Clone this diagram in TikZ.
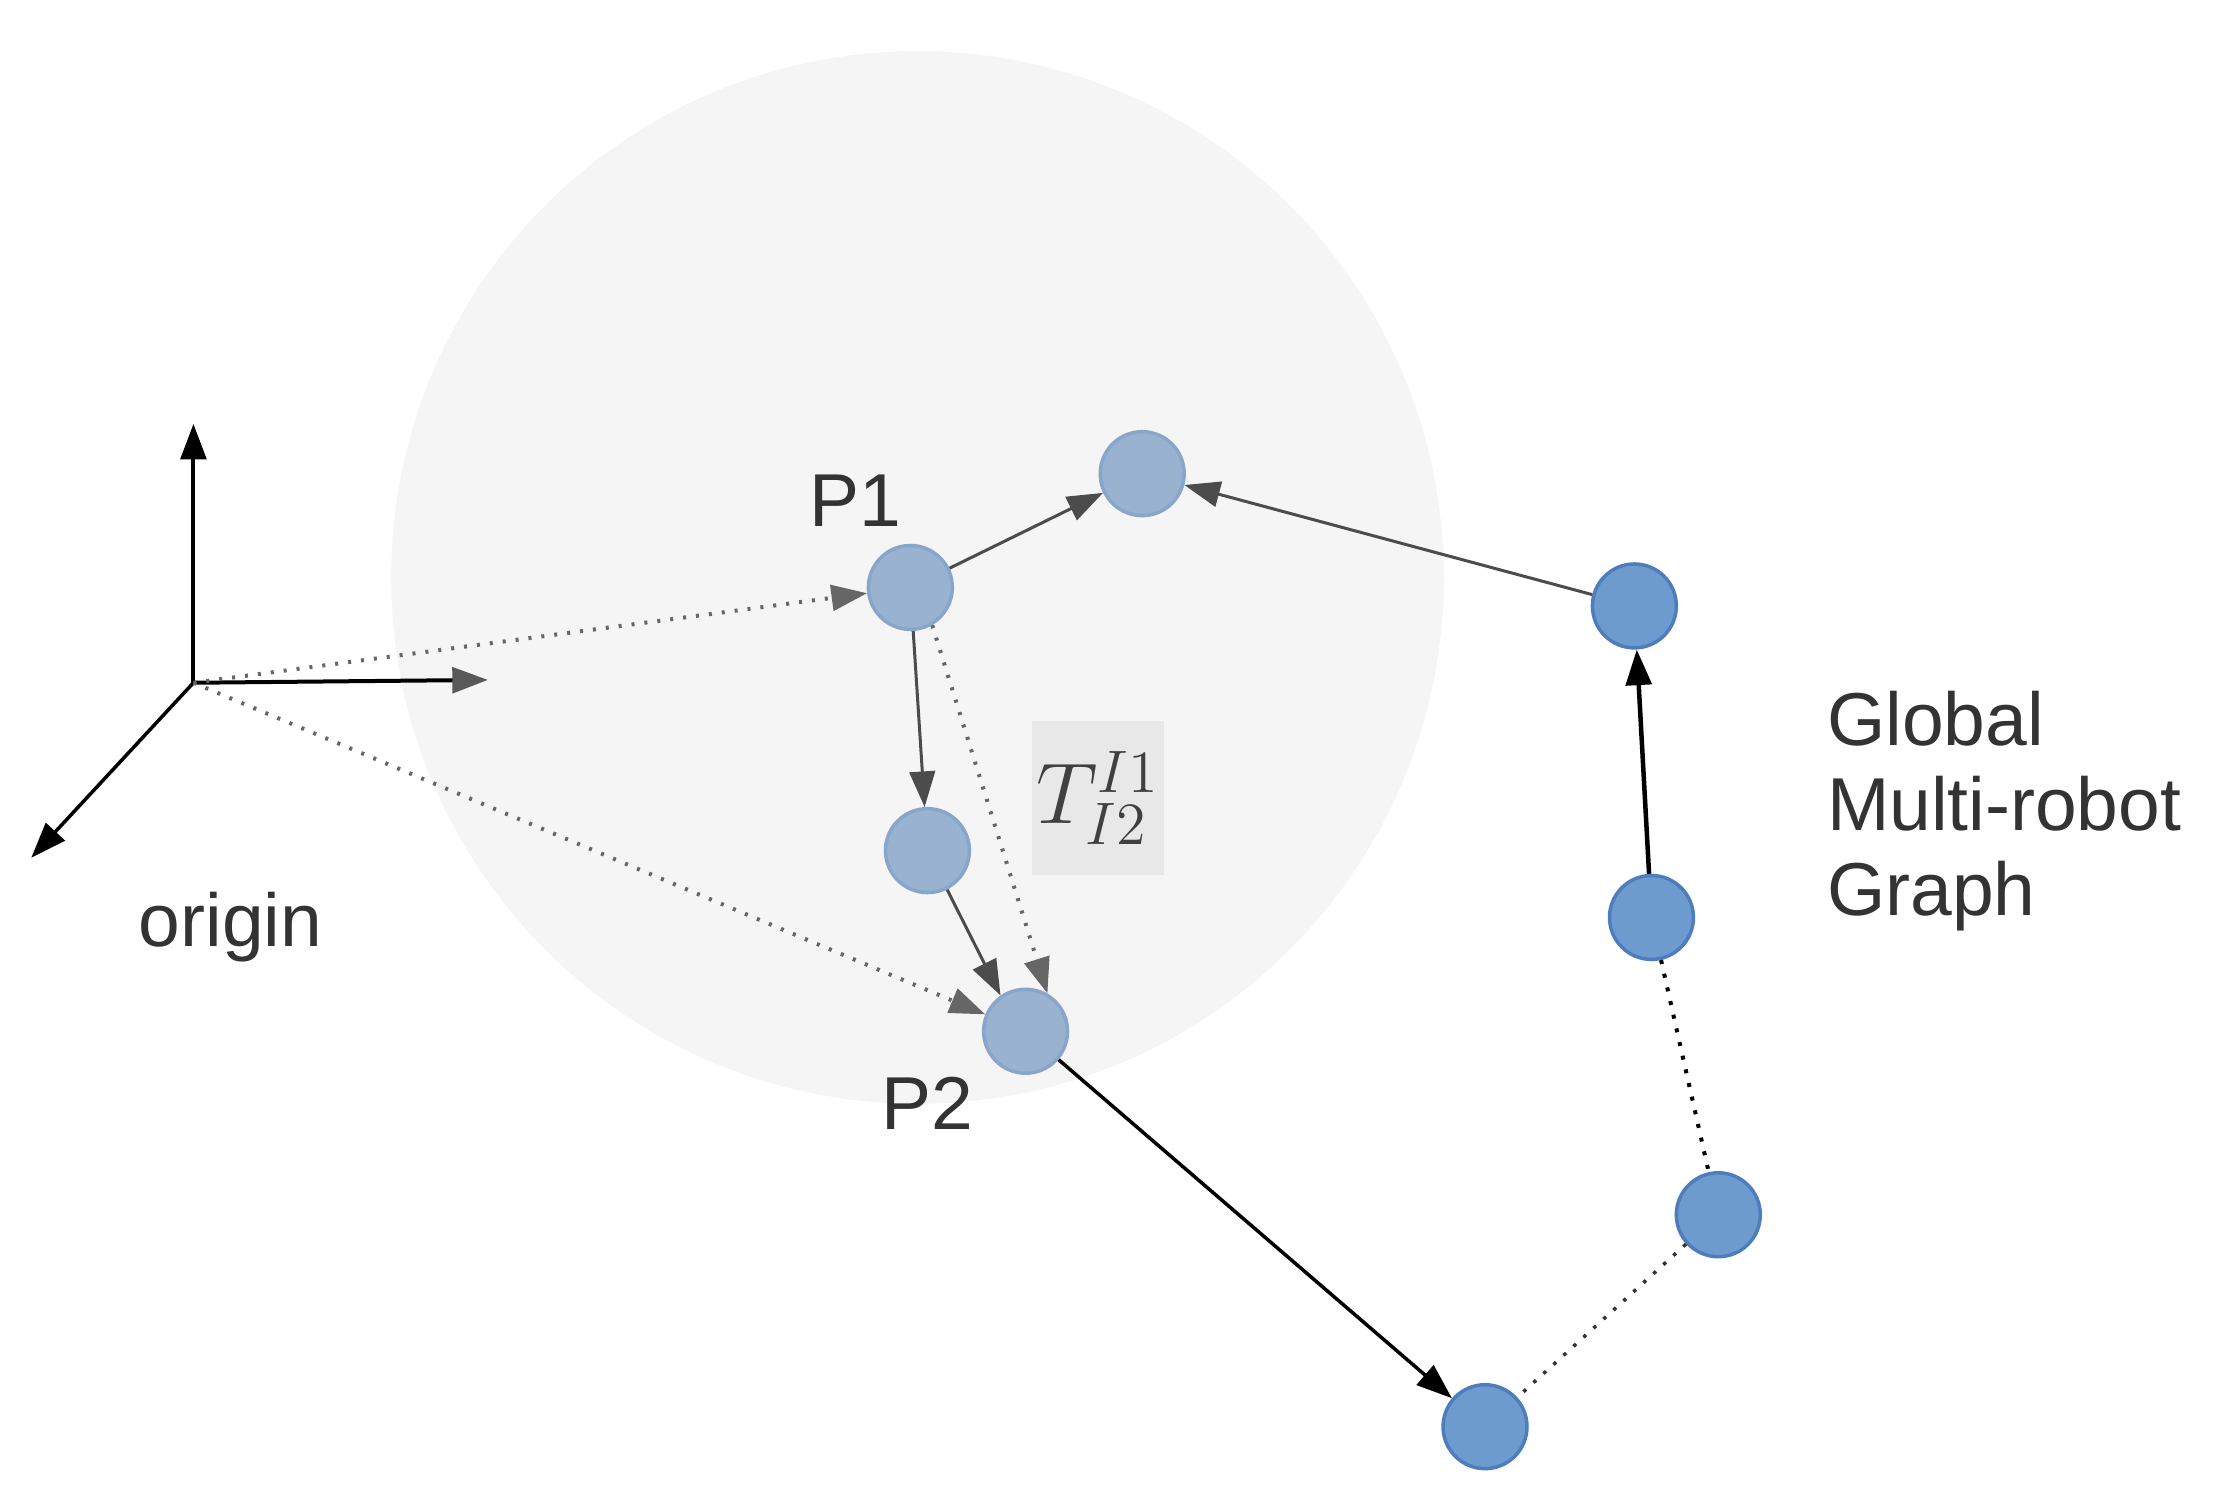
\documentclass[tikz,border=0pt]{standalone}
\usepackage{fontspec}
\setmainfont{Liberation Sans}
\usetikzlibrary{arrows.meta}

\definecolor{posefill}{HTML}{6E9BCE}
\definecolor{poseedge}{HTML}{4D7DBD}
\definecolor{fadefill}{HTML}{98B2D0}
\definecolor{fadeedge}{HTML}{88A6CA}
\definecolor{txtgray}{HTML}{333333}

\tikzset{
  pose/.style={circle, minimum size=5.9mm, inner sep=0pt, fill=posefill, draw=poseedge, line width=0.7pt},
  fadepose/.style={pose, fill=fadefill, draw=fadeedge},
  tip/.style={-{Triangle[length=2.5mm,width=1.8mm]}},
  link/.style={tip, draw=black!70, line width=0.6pt},
  odom/.style={link, dotted, draw=black!60, line width=0.8pt},
  lbl/.style={font=\fontsize{15}{17}\selectfont, text=txtgray}
}

\begin{document}
\begin{tikzpicture}[x=0.1mm, y=-0.1mm]
    \useasboundingbox (0,0) rectangle (1560,1054);
    % Local map
    \fill[black!4] (645,406) circle (370);
    % Axes
    \coordinate (o) at (136,480);
    \coordinate (ox) at (343,478);
    \coordinate (oy) at (136,298);
    \coordinate (oz) at (22,603);
    \draw[tip, line width=0.8pt] (o) -- (oy);
    \draw[-{Triangle[length=2.5mm,width=1.8mm,color=black!65]}, line width=0.8pt] (o) -- (ox);
    \draw[tip, line width=0.7pt] (o) -- (oz);
    \node[lbl] (origin) at (162,652) {origin};
    % Robot 1 poses
    \node[fadepose] (p1) at (640,413) {};
    \node[fadepose] (top) at (803,333) {};
    \node[fadepose] (mid) at (652,598) {};
    \node[fadepose] (p2) at (721,725) {};
    \node[lbl] (p1lbl) at (601,352) {P1};
    \node[lbl] (p2lbl) at (652,776) {P2};
    \node[fill=black!9, minimum width=9.3mm, minimum height=10.8mm, inner sep=0pt, text=black!75]
      (tf) at (772,561) {\fontsize{17}{20}\selectfont$T^{I1}_{I2}$};
    % Global graph
    \node[pose] (ga) at (1149,426) {};
    \node[pose] (gb) at (1161,645) {};
    \node[pose] (gc) at (1208,854) {};
    \node[pose] (gd) at (1044,1003) {};
    \node[lbl, anchor=west, align=left] (glbl) at (1272,570) {Global\\Multi-robot\\Graph};
    % Links
    \draw[odom] (o) -- (p1);
    \draw[odom] (o) -- (p2);
    \draw[odom] (p1.-60) -- (p2.60);
    \draw[link] (p1) -- (top);
    \draw[link] (p1) -- (mid);
    \draw[link] (mid) -- (p2.125);
    \draw[link] (ga) -- (top);
    \draw[tip, line width=0.7pt] (p2) -- (gd);
    \draw[tip, line width=0.9pt] (gb) -- (ga);
    \draw[dotted, line width=0.8pt] (gb) -- (gc);
    \draw[dotted, line width=0.7pt, black!80] (gc) -- (gd);
\end{tikzpicture}
\end{document}
